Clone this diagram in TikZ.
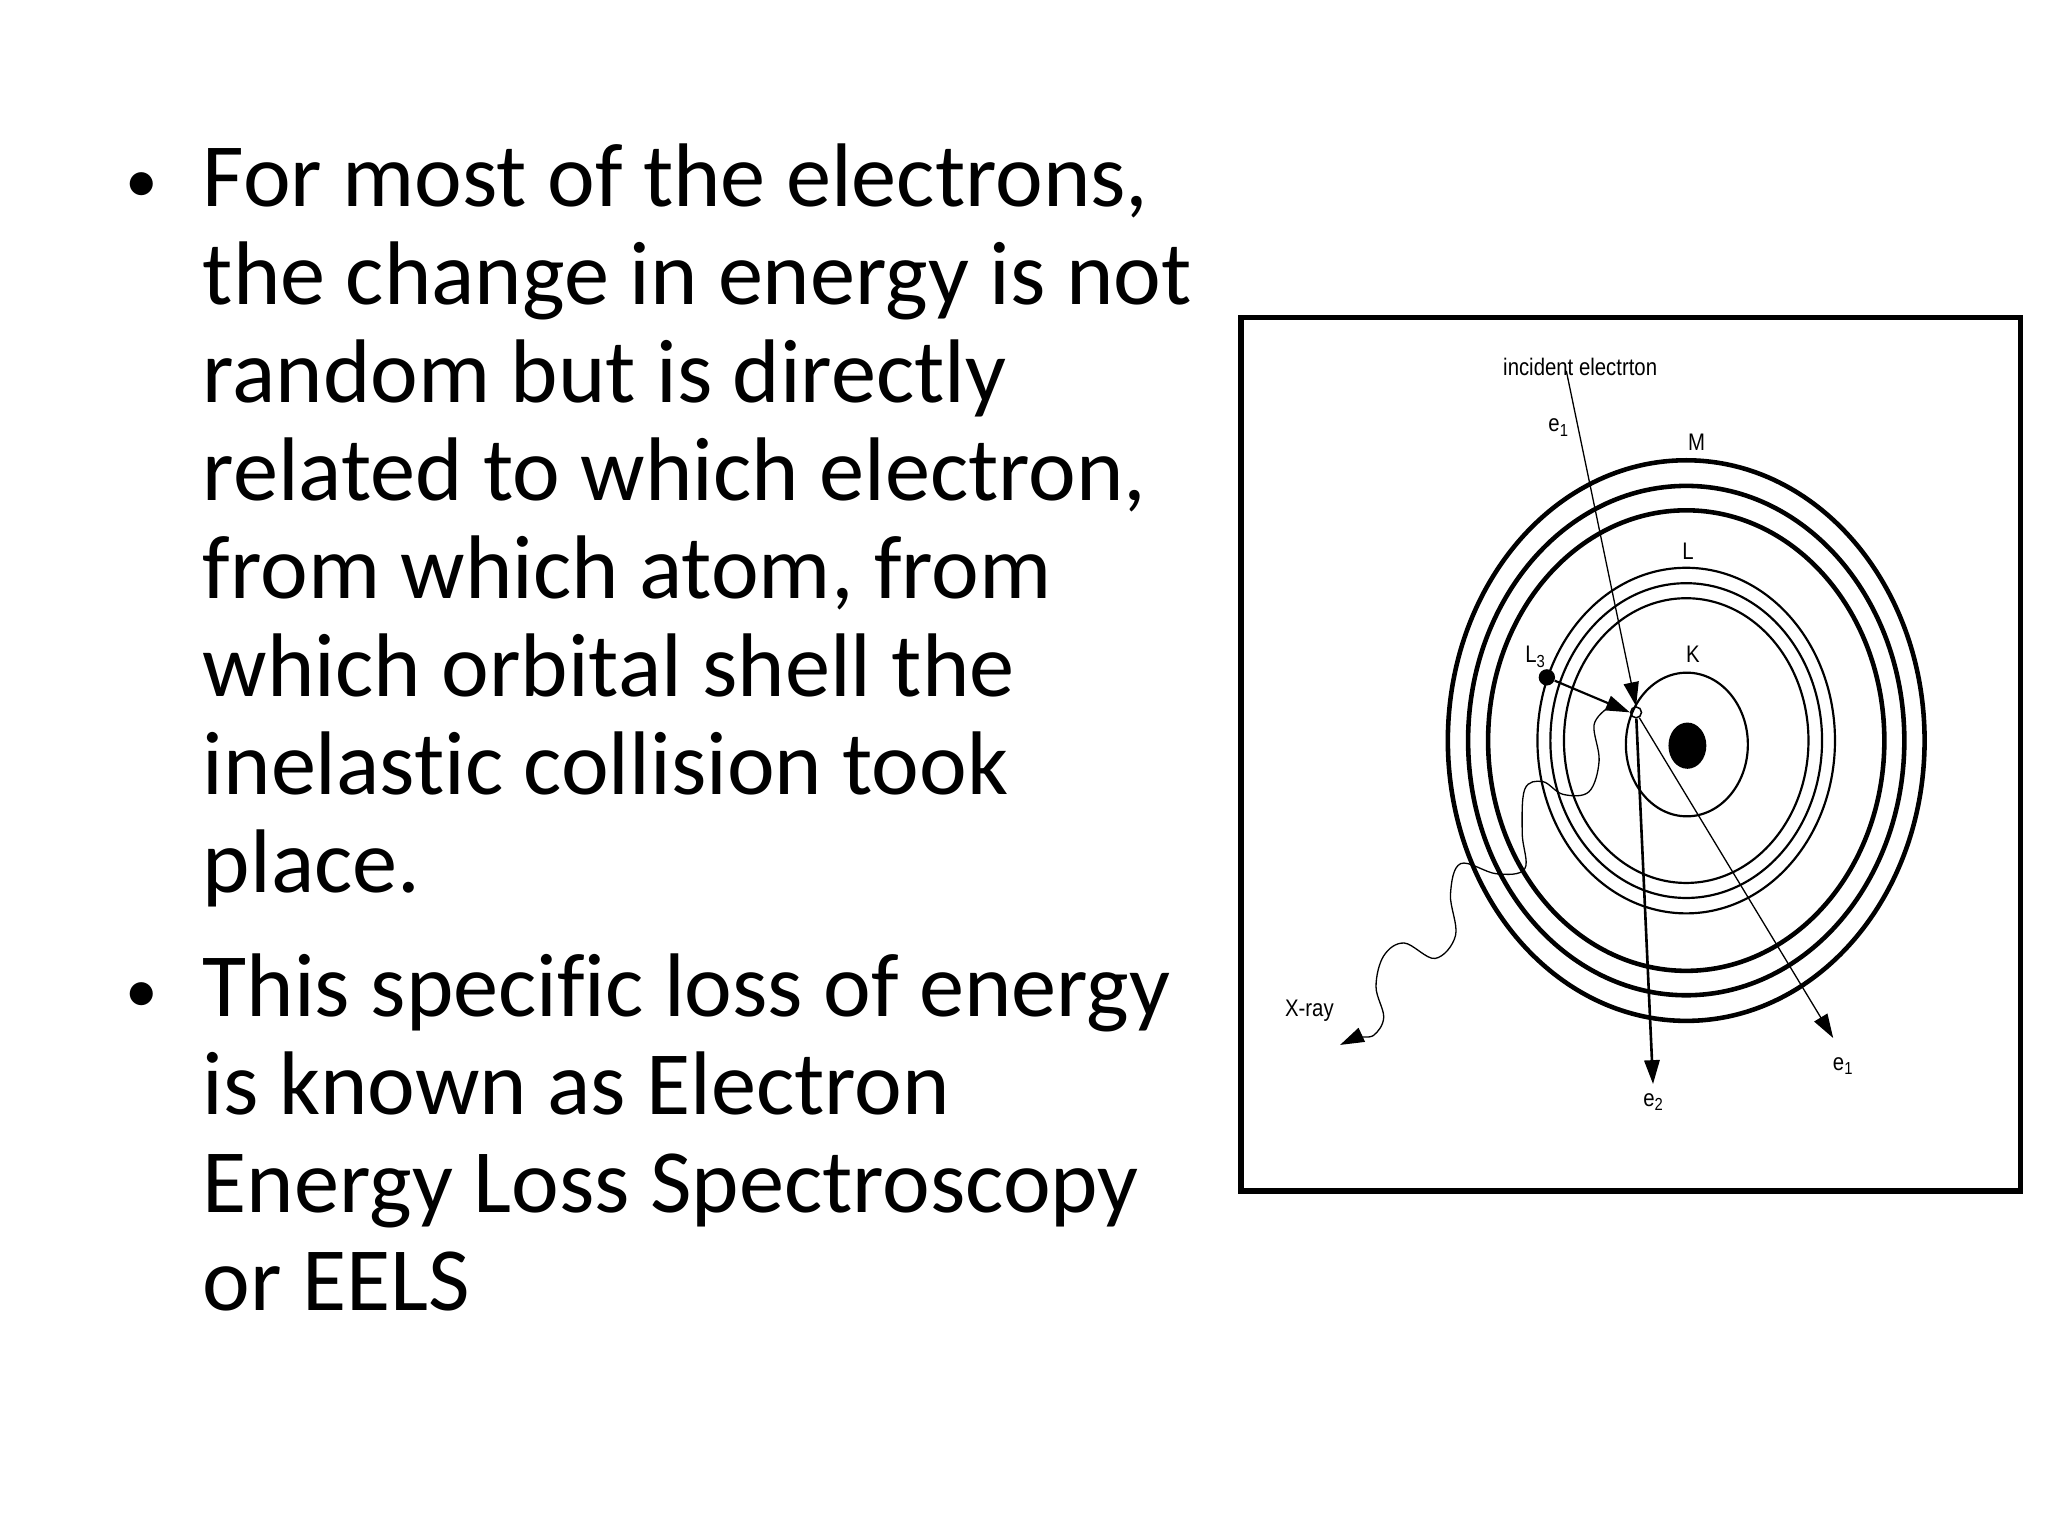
\documentclass[tikz,border=0pt]{standalone}
\usepackage{fontspec}
\setmainfont[Ligatures=NoCommon]{Carlito}
\newfontfamily\diagfont{Liberation Sans}
\usetikzlibrary{arrows.meta}
\newcommand{\sbs}[1]{\raisebox{-0.35ex}{\fontsize{8}{9}\selectfont #1}}
\begin{document}
\begin{tikzpicture}[x=0.6pt,y=-0.6pt,
  bodytext/.style={anchor=base west,inner sep=0pt,font=\fontsize{41.5}{48}\selectfont},
  bul/.style={anchor=base west,inner sep=0pt,font=\fontsize{30}{36}\selectfont},
  lbl/.style={inner sep=0pt,font=\diagfont\fontsize{11}{13}\selectfont,xscale=0.85},
  thinring/.style={line width=1pt},
  thickring/.style={line width=2.1pt},
  tip/.style={-{Triangle[length=11pt,width=7pt]}}]
\useasboundingbox (0,0) rectangle (1568,1176);
\fill[white] (0,0) rectangle (1568,1176);
% text
\node[bul] (b1) at (96,155) {•};
\node[bodytext] (t1) at (155,158) {For most of the electrons,};
\node[bodytext] (t2) at (155,233) {the change in energy is not};
\node[bodytext] (t3) at (155,308) {random but is directly};
\node[bodytext] (t4) at (155,383) {related to which electron,};
\node[bodytext] (t5) at (155,458) {from which atom, from};
\node[bodytext] (t6) at (155,533) {which orbital shell the};
\node[bodytext] (t7) at (155,608) {inelastic collision took};
\node[bodytext] (t8) at (155,683) {place.};
\node[bul] (b2) at (96,775) {•};
\node[bodytext] (u1) at (155,778) {This specific loss of energy};
\node[bodytext] (u2) at (155,853) {is known as Electron};
\node[bodytext] (u3) at (155,928) {Energy Loss Spectroscopy};
\node[bodytext] (u4) at (155,1003) {or EELS};
% box
\draw[line width=2.6pt] (950,243) rectangle (1547,912);
% rings
\coordinate (c) at (1291,567);
\draw[thickring] (c) ellipse [x radius=182.5,y radius=214.6];
\draw[thickring] (c) ellipse [x radius=167,y radius=195];
\draw[thickring] (c) ellipse [x radius=151.7,y radius=176.3];
\draw[thinring] (c) ellipse [x radius=113.9,y radius=132.3];
\draw[thinring] (c) ellipse [x radius=104,y radius=120.5];
\draw[thinring] (c) ellipse [x radius=93.6,y radius=109];
\draw[thinring] (1291.5,570) ellipse [x radius=46.7,y radius=55];
\fill (1291.9,570.9) ellipse [x radius=14.5,y radius=17.7];
% hit point and L3 electron
\node[draw,circle,inner sep=0pt,minimum size=5pt,line width=0.7pt] (hit) at (1252.6,545.4) {};
\node[fill,circle,inner sep=0pt,minimum size=7.5pt] (l3e) at (1184.3,518.6) {};
\coordinate (inc) at (1199.2,284);
\coordinate (e2end) at (1265.6,830);
\coordinate (e1end) at (1403.5,794.7);
\draw[line width=0.6pt,tip] (inc) -- (hit.north);
\draw[line width=1.2pt,tip] (hit) -- (e2end);
\draw[line width=0.6pt,tip] (hit) -- (e1end);
\draw[line width=1pt,tip] (l3e) -- (hit.west);
% x-ray
\coordinate (xs) at (1230.2,542.6);
\coordinate (xe) at (1026,800);
\draw[line width=0.6pt] plot[smooth,tension=0.6] coordinates{(xs) (1220.4,555.2) (1224.3,582.6) (1216.5,606.2) (1196.8,608.2) (1181.1,598.4) (1167.4,604.2) (1165.4,637.6) (1167.4,665.1) (1145.8,669) (1118.3,661.2) (1110.5,684.7) (1114.4,716.1) (1098.7,733.8) (1075.1,722) (1059.4,731.8) (1053.5,755.4) (1059.4,778.9) (1051.6,792.7) (1040,793.5)};
\draw[line width=0.6pt,tip] (1040,793.5) -- (xe);
% labels
\node[lbl] (linc) at (1209.8,281.1) {incident electrton};
\node[lbl] (le1a) at (1193,327.4) {e\sbs{1}};
\node[lbl] (lM) at (1299,338.4) {M};
\node[lbl] (lL) at (1292.3,421.7) {L};
\node[lbl] (lK) at (1296.2,501) {K};
\node[lbl] (lL3) at (1175.3,503) {L\sbs{3}};
\node[lbl] (lx) at (1002.5,774.2) {X-ray};
\node[lbl] (le1b) at (1410.8,816.3) {e\sbs{1}};
\node[lbl] (le2) at (1265.6,843.7) {e\sbs{2}};
\end{tikzpicture}
\end{document}
